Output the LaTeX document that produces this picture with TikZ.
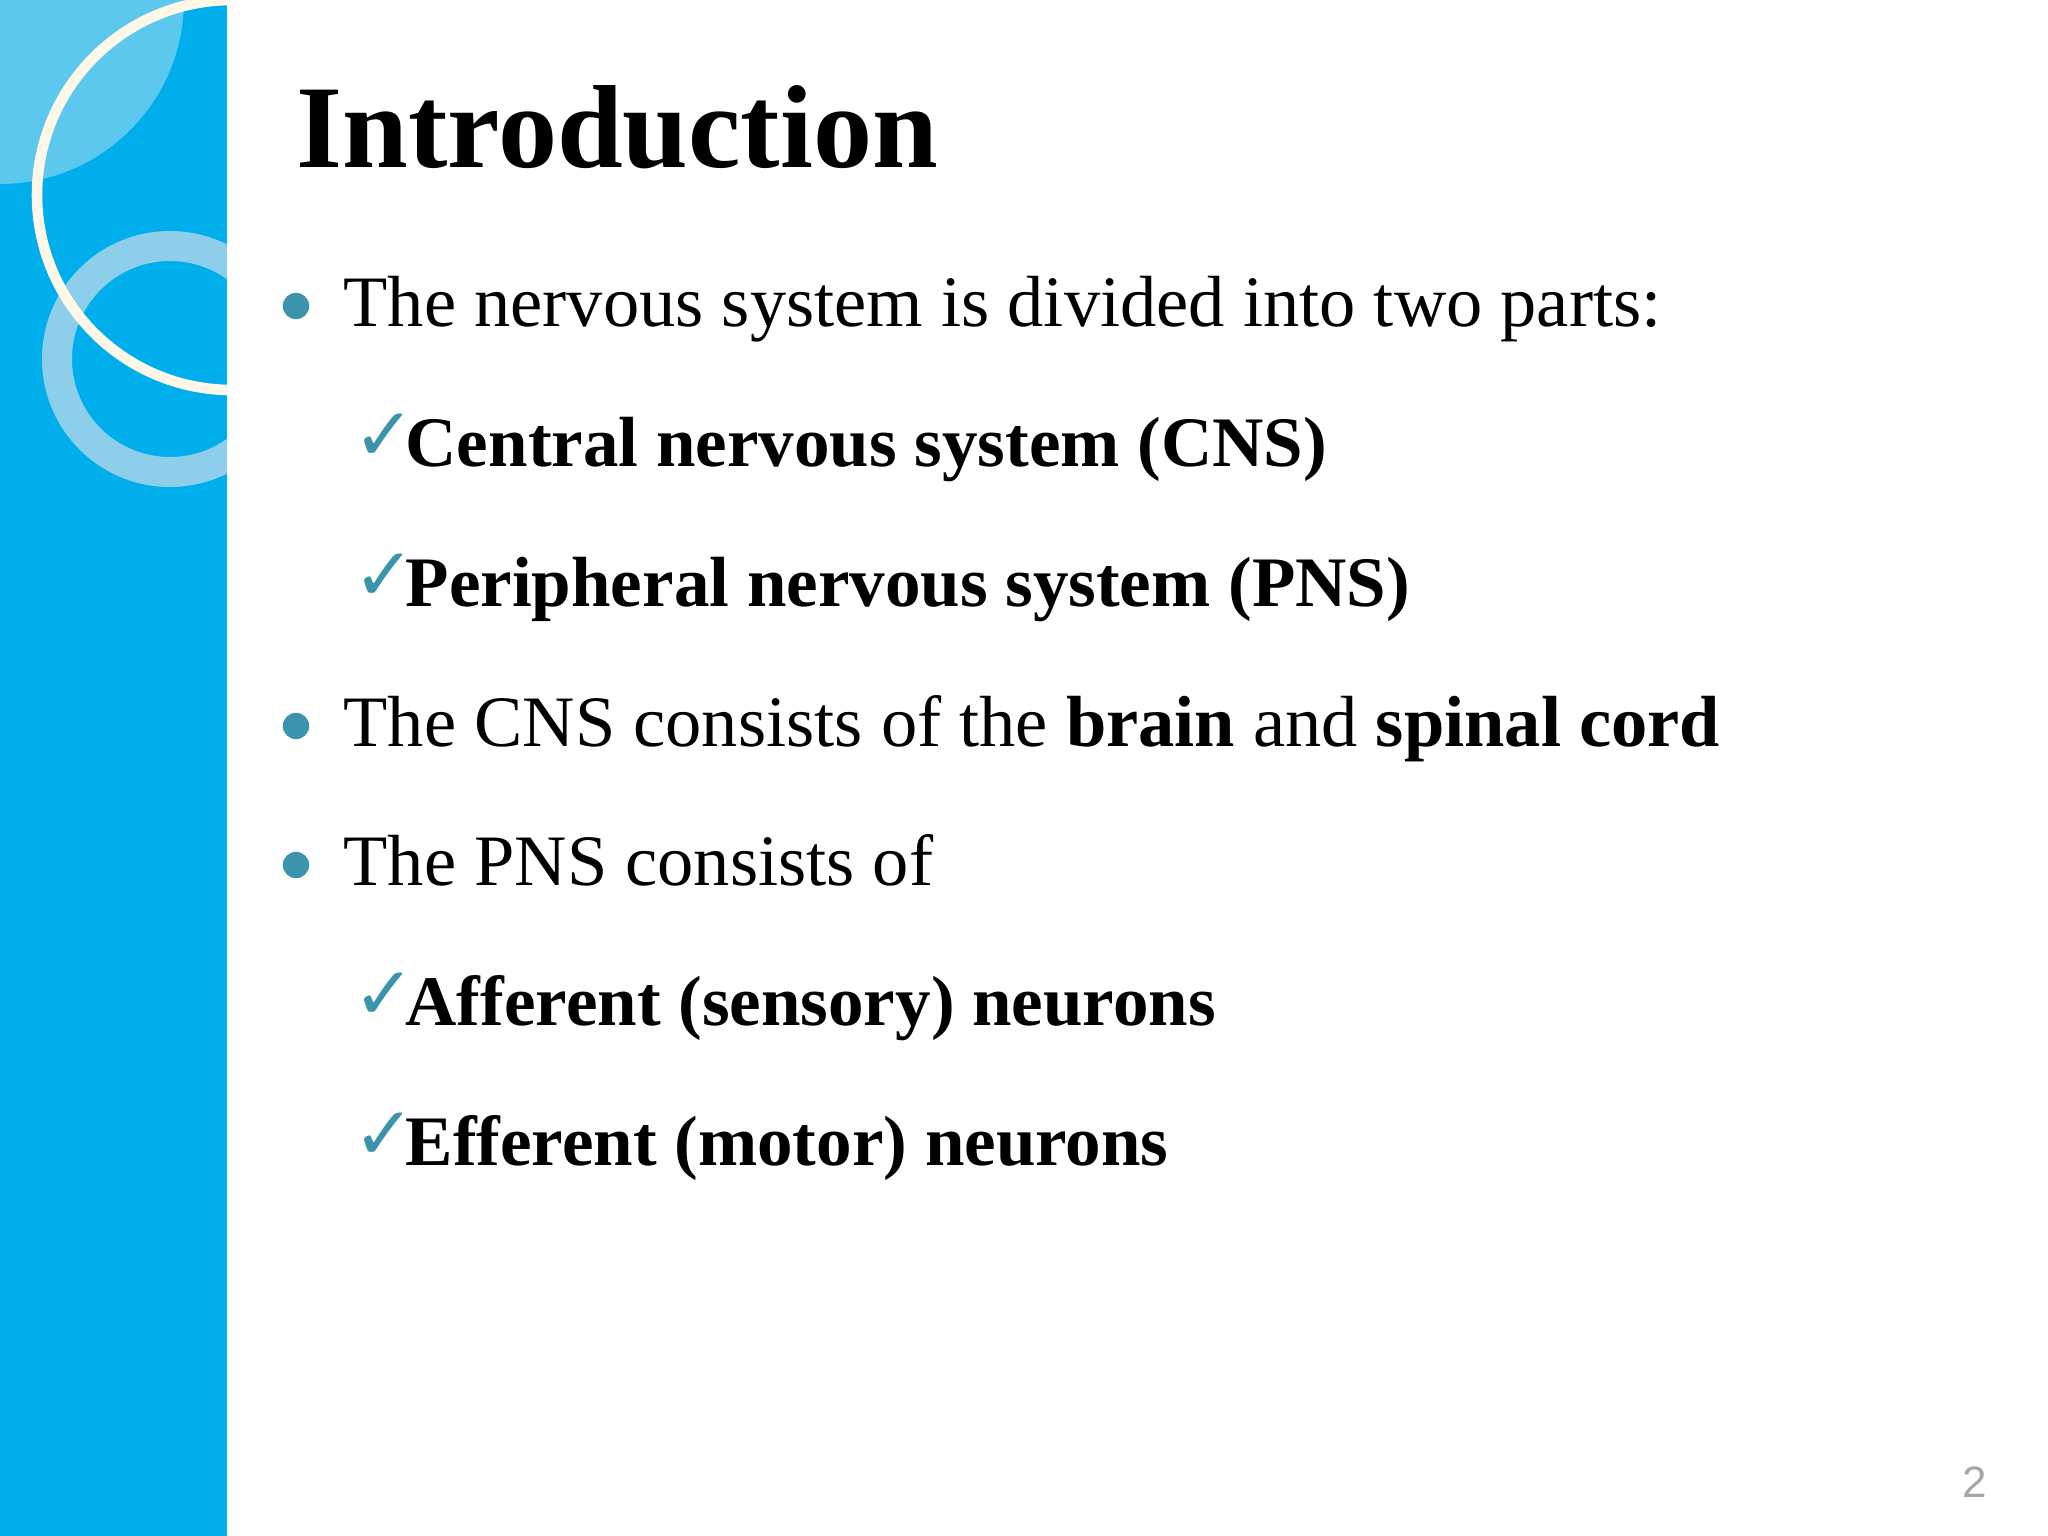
\documentclass[tikz,border=0pt]{standalone}
\usepackage{fontspec}
\setmainfont{Liberation Serif}
\newfontfamily\numfont{Liberation Sans}
\newfontfamily\tickfont{DejaVu Sans}
\definecolor{barblue}{HTML}{00AEEB}
\definecolor{lightblue}{HTML}{5CC8EE}
\definecolor{paleblue}{HTML}{9DD3EA}
\definecolor{ringwhite}{HTML}{FFF8E8}
\definecolor{tickteal}{HTML}{3C93AC}
\tikzset{
  line/.style={anchor=base west, inner sep=0pt, font=\fontsize{20.6}{25}\selectfont},
  sub/.style={line, font=\fontsize{20.2}{25}\selectfont\bfseries},
  dot/.style={circle, fill=tickteal, inner sep=0pt, minimum size=7.5pt},
  tick/.style={anchor=base west, inner sep=0pt, text=tickteal, font=\tickfont\fontsize{21}{24}\selectfont}
}
\begin{document}
\begin{tikzpicture}[x=0.01cm, y=-0.01cm]
    \useasboundingbox (0,0) rectangle (2048,1536);
    \fill[white] (0,0) rectangle (2048,1536);

    % side bar
    \fill[barblue] (0,0) rectangle (227,1536);
    \begin{scope}
        \clip (0,0) rectangle (227,1536);
        \fill[lightblue] (0,0) circle (184);
        \fill[paleblue, even odd rule, opacity=0.9] (170,359) circle (128) (170,359) circle (98);
        \draw[ringwhite, line width=3pt] (232,195) circle (195);
    \end{scope}

    % title
    \node[anchor=base west, inner sep=0pt, font=\fontsize{33.6}{40}\selectfont\bfseries] (title) at (296,167) {Introduction};

    % bullets
    \node[dot] (d1) at (296,306) {};
    \node[line] (l1) at (343,326) {The nervous system is divided into two parts:};
    \node[tick] (t1) at (353,460) {✓};
    \node[sub] (l2) at (405,466) {Central nervous system (CNS)};
    \node[tick] (t2) at (353,600) {✓};
    \node[sub] (l3) at (405,606) {Peripheral nervous system (PNS)};
    \node[dot] (d2) at (296,726) {};
    \node[line] (l4) at (343,746) {The CNS consists of the \textbf{brain} and \textbf{spinal cord}};
    \node[dot] (d3) at (296,865) {};
    \node[line] (l5) at (343,885) {The PNS consists of};
    \node[tick] (t3) at (353,1019) {✓};
    \node[sub] (l6) at (405,1025) {Afferent (sensory) neurons};
    \node[tick] (t4) at (353,1159) {✓};
    \node[sub] (l7) at (405,1165) {Efferent (motor) neurons};

    % page number
    \node[anchor=base east, inner sep=0pt, text=gray!70, font=\numfont\fontsize{12.5}{15}\selectfont] (page) at (1988,1497) {2};
\end{tikzpicture}
\end{document}
